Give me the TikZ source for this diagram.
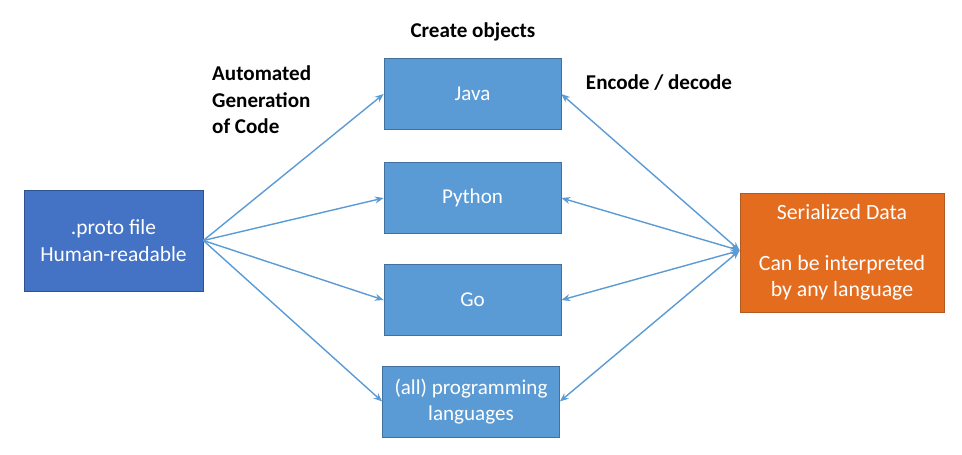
\documentclass[tikz,border=0pt]{standalone}
\usepackage{fontspec}
\setmainfont{Carlito}
\usetikzlibrary{arrows.meta}
\definecolor{boxblue}{HTML}{5B9BD5}
\definecolor{boxedge}{HTML}{41719C}
\definecolor{protoblue}{HTML}{4472C4}
\definecolor{protoedge}{HTML}{2F528F}
\definecolor{dataorange}{HTML}{E46C1F}
\definecolor{dataedge}{HTML}{AE5A21}
\begin{document}
\begin{tikzpicture}[
    x=0.02cm, y=-0.02cm,
    lang/.style={rectangle, draw=boxedge, fill=boxblue, text=white, minimum width=3.54cm, minimum height=1.42cm, align=center, font=\fontsize{12}{15}\selectfont, inner sep=2pt},
    note/.style={font=\bfseries\fontsize{12}{15}\selectfont, align=left},
    arrow/.style={-{Stealth[length=5pt,width=4pt]}, draw=boxblue, thick},
    twoway/.style={{Stealth[length=5pt,width=4pt]}-{Stealth[length=5pt,width=4pt]}, draw=boxblue, thick}
]
\useasboundingbox (0,0) rectangle (962,454);

% Quelle und Ziel
\node[rectangle, draw=protoedge, fill=protoblue, text=white, minimum width=3.58cm, minimum height=2.02cm, align=center, font=\fontsize{12.2}{15.5}\selectfont] (proto) at (113.5,240.5) {.proto file\\Human-readable};
\node[rectangle, draw=dataedge, fill=dataorange, text=white, minimum width=4.08cm, minimum height=2.38cm, align=center, font=\fontsize{12.4}{15}\selectfont] (data) at (842,252.5) {Serialized Data\\[14pt]Can be interpreted\\by any language};

% Sprachen
\node[lang] (java) at (472.5,94) {Java};
\node[lang] (python) at (472.5,198) {Python};
\node[lang] (go) at (472.5,300) {Go};
\node[lang] (all) at (471,401.5) {(all) programming\\languages};

% Beschriftungen
\node[note] (create) at (473,32) {Create objects};
\node[note, anchor=west] (gen) at (206,100) {Automated\\Generation\\of Code};
\node[note] (enc) at (659,83) {Encode / decode};

% Pfeile
\foreach \t in {java,python,go,all}
  \draw[arrow] (proto.east) -- (\t.west);
\foreach \t in {java,python,go,all}
  \draw[twoway] (\t.east) -- ([yshift=0.04cm]data.west);
\end{tikzpicture}
\end{document}
